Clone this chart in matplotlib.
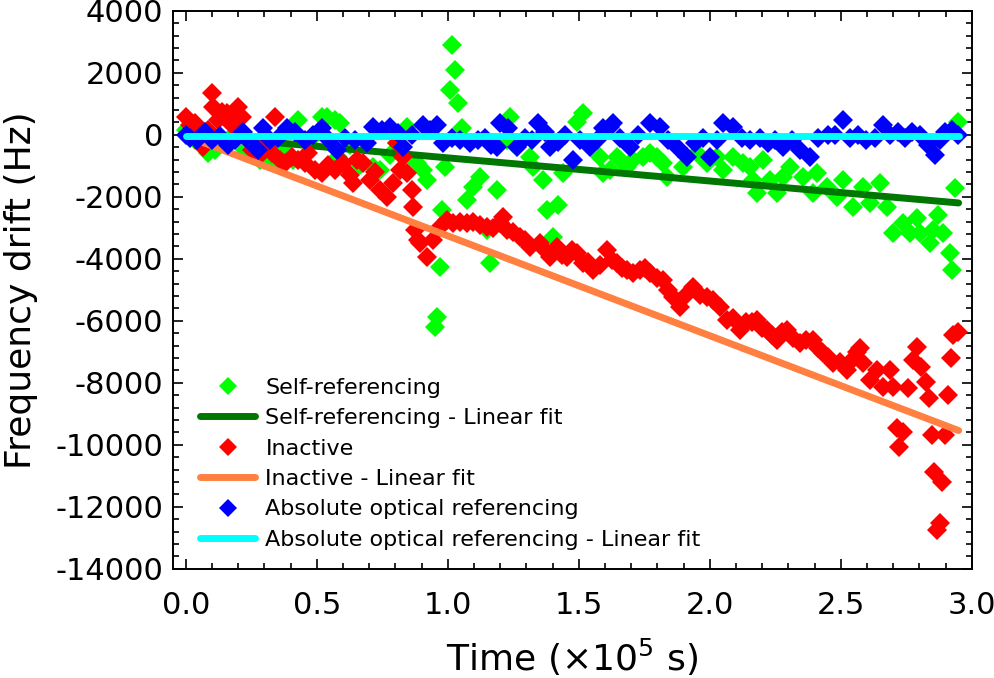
import matplotlib
matplotlib.use("Agg")
import matplotlib.pyplot as plt
from matplotlib.ticker import MultipleLocator

plt.rcParams['font.family'] = ['DejaVu Sans']
plt.rcParams['axes.unicode_minus'] = False
plt.rcParams['mathtext.fontset'] = 'dejavusans'

# ---------------- data (time in 1e5 s, drift in Hz) ----------------
self_x = [0.00, 0.01, 0.035, 0.085, 0.112, 0.161, 0.226, 0.283, 0.329, 0.352, 0.379, 0.410,
          0.429, 0.474, 0.520, 0.539, 0.570, 0.581, 0.589, 0.627, 0.665, 0.715, 0.742, 0.780,
          0.807, 0.845, 0.883, 0.906, 0.921, 0.952, 0.959, 0.971, 0.978, 0.990, 1.009, 1.016,
          1.028, 1.039, 1.054, 1.073, 1.096, 1.123, 1.150, 1.161, 1.188, 1.226, 1.238, 1.249,
          1.314, 1.326, 1.364, 1.379, 1.402, 1.421, 1.440, 1.493, 1.516, 1.581, 1.593, 1.619,
          1.646, 1.657, 1.684, 1.707, 1.745, 1.772, 1.799, 1.822, 1.837, 1.898, 1.951, 1.990,
          2.028, 2.051, 2.089, 2.127, 2.154, 2.165, 2.181, 2.204, 2.230, 2.257, 2.280, 2.307,
          2.356, 2.394, 2.410, 2.448, 2.486, 2.509, 2.547, 2.585, 2.612, 2.650, 2.677, 2.699,
          2.738, 2.764, 2.791, 2.803, 2.841, 2.852, 2.871, 2.890, 2.917, 2.925, 2.936, 2.948]
self_y = [161, 226, -161, -581, -484, -161, -484, -806, -806, -903, -484, -806,
          484, -161, 581, 581, 484, -710, 387, -323, -968, -1032, -1129, -645,
          -258, 258, -903, -1129, -1452, -6194, -5871, -4258, -2420, -1032, 1452, 2903,
          2097, 1032, 226, -2097, -1677, -1355, -3065, -4129, -1774, -161, 581, -258,
          -710, -1032, -1452, -2420, -3291, -2258, -1226, 419, 710, -710, -1226, -1129,
          -710, -806, -1032, -806, -710, -581, -710, -903, -1355, -1032, -581, -903,
          -710, -1129, -710, -903, -1032, -1452, -1871, -806, -1452, -1871, -1355, -1032,
          -1355, -1871, -1226, -1677, -2000, -1452, -2323, -1677, -2194, -1548, -2323, -3161,
          -2839, -3161, -2678, -3161, -3484, -3065, -2581, -3161, -3807, -4355, -1710, 419]

inact_x = [0.000, 0.016, 0.035, 0.055, 0.066, 0.085, 0.100, 0.105, 0.123, 0.138, 0.157, 0.177,
           0.200, 0.215, 0.230, 0.253, 0.276, 0.291, 0.314, 0.329, 0.341, 0.360, 0.379, 0.406,
           0.429, 0.455, 0.466, 0.494, 0.520, 0.543, 0.570, 0.600, 0.627, 0.638, 0.654, 0.677,
           0.704, 0.723, 0.742, 0.769, 0.792, 0.807, 0.818, 0.830, 0.845, 0.864, 0.868, 0.875,
           0.887, 0.894, 0.921, 0.944, 0.971, 0.997, 1.020, 1.047, 1.073, 1.096, 1.123, 1.150,
           1.173, 1.199, 1.211, 1.226, 1.249, 1.276, 1.295, 1.314, 1.352, 1.371, 1.390, 1.417,
           1.436, 1.455, 1.474, 1.493, 1.516, 1.535, 1.554, 1.581, 1.608, 1.627, 1.646, 1.665,
           1.684, 1.707, 1.734, 1.753, 1.772, 1.799, 1.822, 1.841, 1.860, 1.887, 1.910, 1.936,
           1.963, 1.990, 2.013, 2.039, 2.066, 2.089, 2.116, 2.139, 2.161, 2.181, 2.200, 2.219,
           2.238, 2.257, 2.276, 2.295, 2.318, 2.344, 2.367, 2.394, 2.413, 2.432, 2.452, 2.471,
           2.497, 2.524, 2.543, 2.562, 2.574, 2.585, 2.612, 2.638, 2.661, 2.688, 2.699, 2.715,
           2.722, 2.738, 2.757, 2.776, 2.791, 2.806, 2.825, 2.837, 2.848, 2.856, 2.867, 2.879,
           2.886, 2.898, 2.909, 2.921, 2.929, 2.948]
inact_y = [581, 323, 387, -161, -387, 161, 1355, 903, 484, 742, 710, 323,
           903, 581, -97, -484, -710, -161, -419, -581, 581, -806, -903, -710,
           -806, -903, -581, -1129, -1226, -968, -1129, -903, -1290, -1548, -806, -903,
           -1452, -1194, -1774, -2000, -1548, -258, -1129, -710, -1226, -1774, -2323, -3065,
           -3387, -3484, -3936, -3387, -2968, -2742, -2839, -2807, -2839, -2807, -2903, -2968,
           -3000, -2839, -2645, -3065, -3129, -3291, -3387, -3613, -3484, -3710, -3936, -3613,
           -3871, -3936, -3710, -3807, -4129, -4097, -4355, -4194, -3710, -4032, -4129, -4290,
           -4355, -4452, -4355, -4290, -4452, -4613, -4677, -5000, -5226, -5549, -5162, -4903,
           -5162, -5226, -5323, -5549, -5968, -5904, -6291, -6033, -6033, -5968, -6226, -6291,
           -6452, -6613, -6355, -6291, -6549, -6710, -6613, -6613, -6871, -7033, -7162, -7355,
           -7323, -7581, -7259, -7000, -6871, -7355, -7904, -7581, -8129, -7581, -8129, -9452,
           -10065, -9581, -8162, -7259, -6839, -7484, -7968, -8484, -9678, -10872, -12743, -12517,
           -11194, -9678, -8388, -7194, -6452, -6355]

abs_x = [0.000, 0.016, 0.043, 0.074, 0.100, 0.130, 0.161, 0.188, 0.219, 0.245, 0.276, 0.295,
         0.322, 0.352, 0.387, 0.418, 0.455, 0.486, 0.520, 0.547, 0.577, 0.608, 0.646, 0.692,
         0.715, 0.749, 0.780, 0.811, 0.830, 0.864, 0.906, 0.933, 0.959, 0.982, 1.016, 1.047,
         1.085, 1.116, 1.142, 1.165, 1.188, 1.199, 1.230, 1.265, 1.295, 1.322, 1.345, 1.371,
         1.390, 1.421, 1.448, 1.478, 1.505, 1.543, 1.570, 1.593, 1.619, 1.631, 1.657, 1.696,
         1.726, 1.772, 1.810, 1.841, 1.879, 1.914, 1.944, 1.974, 2.001, 2.028, 2.051, 2.089,
         2.123, 2.154, 2.192, 2.222, 2.249, 2.280, 2.314, 2.344, 2.383, 2.413, 2.452, 2.478,
         2.509, 2.535, 2.566, 2.597, 2.631, 2.661, 2.688, 2.719, 2.745, 2.772, 2.803, 2.833,
         2.860, 2.879, 2.898, 2.925, 2.948]
abs_y = [0, -97, -161, 97, -161, -32, -323, -161, 97, -226, -484, 226,
         -161, -97, 226, 97, -161, 0, 226, -161, -484, -97, -161, -258,
         258, 161, 258, 65, -387, 0, 323, 161, 323, -258, -97, -161,
         -258, -161, -97, -323, -387, 387, 226, -387, -97, -161, 387, 97,
         -387, -226, 0, -806, -161, -387, -161, 226, 258, 387, -97, -387,
         0, 387, 258, -161, -419, -710, -258, -97, -710, -161, 387, 258,
         -97, -161, -97, -258, -161, -387, -161, -484, -710, -97, 0, 0,
         484, -97, 0, -161, -97, 323, 0, 97, -97, 97, 0, -323,
         -645, -161, 97, 161, 0]

# linear fits (end points of the fitted lines)
fit_x = [0.0, 2.95]
self_fit_y = [0.0, -2200.0]
inact_fit_y = [-40.0, -9540.0]
abs_fit_y = [-30.0, -30.0]

x_ticks = [0.0, 0.5, 1.0, 1.5, 2.0, 2.5, 3.0]
x_tick_labels = ["0.0", "0.5", "1.0", "1.5", "2.0", "2.5", "3.0"]
y_ticks = [4000, 2000, 0, -2000, -4000, -6000, -8000, -10000, -12000, -14000]

# ---------------- figure ----------------
fig = plt.figure(figsize=(9.95, 6.78), dpi=100)
ax = fig.add_axes([0.1736, 0.161, 0.8030, 0.8232])

ms = 10
ax.plot(self_x, self_y, 'D', color='#00ff00', ms=ms, mew=0, label='Self-referencing', zorder=2)
ax.plot(fit_x, self_fit_y, '-', color='#007700', lw=5, solid_capstyle='round',
        label='Self-referencing - Linear fit', zorder=3)
ax.plot(inact_x, inact_y, 'D', color='#ff0000', ms=ms, mew=0, label='Inactive', zorder=4)
ax.plot(fit_x, inact_fit_y, '-', color='#ff8040', lw=5, solid_capstyle='round',
        label='Inactive - Linear fit', zorder=5)
ax.plot(abs_x, abs_y, 'D', color='#0000ff', ms=ms, mew=0, label='Absolute optical referencing', zorder=6)
ax.plot(fit_x, abs_fit_y, '-', color='#00ffff', lw=5, solid_capstyle='round',
        label='Absolute optical referencing - Linear fit', zorder=7)

ax.set_xlim(-0.05, 3.0)
ax.set_ylim(-14000, 4000)
ax.set_xticks(x_ticks)
ax.set_xticklabels(x_tick_labels)
ax.set_yticks(y_ticks)
ax.set_yticklabels([str(v) for v in y_ticks])
ax.xaxis.set_minor_locator(MultipleLocator(0.1))
ax.yaxis.set_minor_locator(MultipleLocator(400))
ax.tick_params(which='both', direction='in', top=True, right=True, labelsize=22, width=1.2)
ax.tick_params(which='major', length=7)
ax.tick_params(which='minor', length=4)
ax.tick_params(axis='x', which='major', pad=16)
ax.tick_params(axis='y', which='major', pad=7)
for sp in ax.spines.values():
    sp.set_linewidth(1.4)

ax.set_xlabel(r"Time ($\times$10$^{5}$ s)", fontsize=26, labelpad=12)
ax.set_ylabel("Frequency drift (Hz)", fontsize=26, labelpad=12)

leg = ax.legend(loc='lower left', bbox_to_anchor=(0.034, 0.034), frameon=False,
                fontsize=16, handlelength=2.5, handletextpad=0.45, labelspacing=0.47,
                borderaxespad=0.0, borderpad=0.0, numpoints=1, markerscale=0.95)

fig.savefig("out.png", dpi=100)
